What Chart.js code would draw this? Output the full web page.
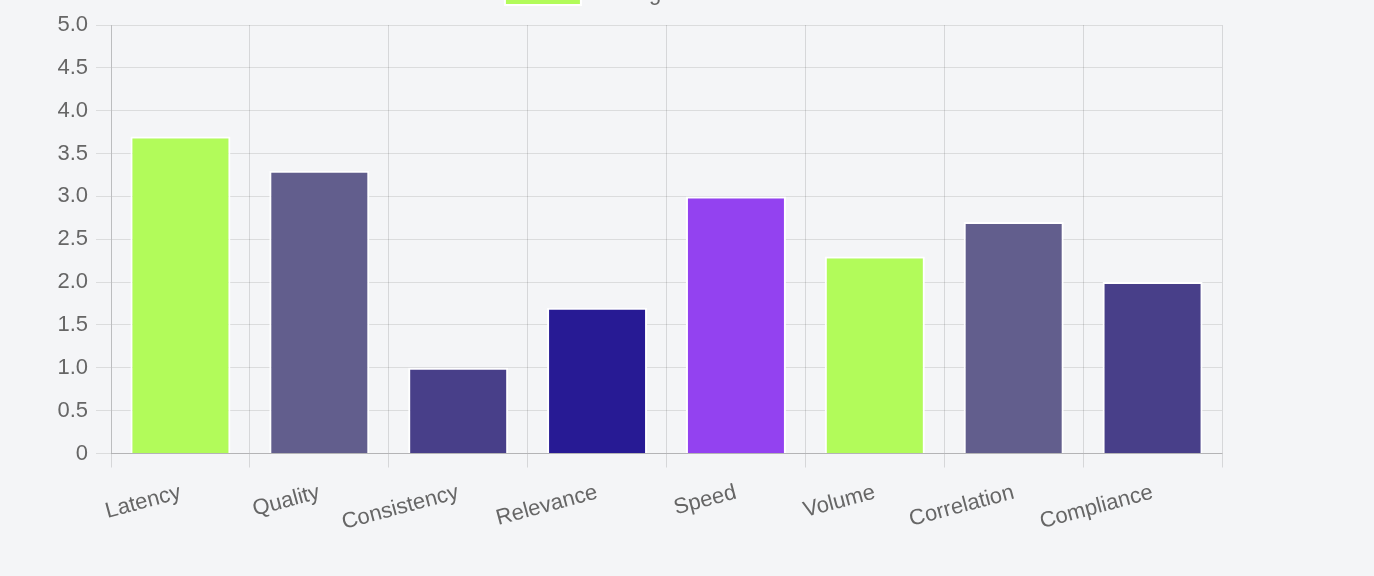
<!DOCTYPE html>
<html>
<head>
<meta charset="utf-8">
<title>Metric scores</title>
<script src="https://cdn.jsdelivr.net/npm/chart.js@4.4.0/dist/chart.umd.min.js"></script>
<style>
  html, body {
    margin: 0;
    padding: 0;
    background: #f4f5f7;
    overflow: hidden;
  }
  .chart-box {
    position: absolute;
    left: 0;
    top: -37px;
    width: 1232px;
    height: 585px;
  }
</style>
</head>
<body>
<div class="chart-box">
  <canvas id="myChart"></canvas>
</div>
<script>
const categories = ['Latency', 'Quality', 'Consistency', 'Relevance', 'Speed', 'Volume', 'Correlation', 'Compliance'];
const scores = [3.7, 3.3, 1.0, 1.7, 3.0, 2.3, 2.7, 2.0];
const barColors = ['#b2fb5a', '#625e8d', '#483f89', '#271a94', '#9342f0', '#b2fb5a', '#625e8d', '#483f89'];
const seriesLabel = 'Average Score';

const context = document.getElementById('myChart').getContext('2d');

Chart.defaults.font.family = '"Liberation Sans", Arial, sans-serif';
Chart.defaults.font.size = 22;
Chart.defaults.color = '#666';

new Chart(context, {
  type: 'bar',
  data: {
    labels: categories,
    datasets: [
      {
        label: seriesLabel,
        data: scores,
        backgroundColor: barColors,
        borderColor: '#ffffff',
        borderWidth: 2,
      },
    ],
  },
  options: {
    responsive: true,
    maintainAspectRatio: false,
    animation: false,
    layout: {
      padding: { left: 20, right: 10 },
    },
    plugins: {
      legend: {
        labels: {
          boxWidth: 76,
          boxHeight: 22,
          padding: 20,
        },
      },
      // empty spacer between legend and plot
      title: {
        display: true,
        text: ' ',
        weight: 500,
        font: { size: 2, lineHeight: 1 },
        padding: { top: 4, bottom: 4 },
      },
      tooltip: { enabled: false },
    },
    scales: {
      x: {
        grid: {
          color: 'rgba(0, 0, 0, 0.12)',
          tickLength: 14,
        },
        border: { color: 'rgba(0, 0, 0, 0.18)' },
        ticks: {
          minRotation: 15,
          maxRotation: 15,
          padding: 12,
        },
      },
      y: {
        min: 0,
        max: 5,
        afterFit(axis) {
          axis.width = 91;
        },
        grid: {
          color: 'rgba(0, 0, 0, 0.1)',
          tickLength: 15,
        },
        border: { color: 'rgba(0, 0, 0, 0.12)' },
        ticks: {
          stepSize: 0.5,
          padding: 8,
        },
      },
    },
  },
});
</script>
</body>
</html>
